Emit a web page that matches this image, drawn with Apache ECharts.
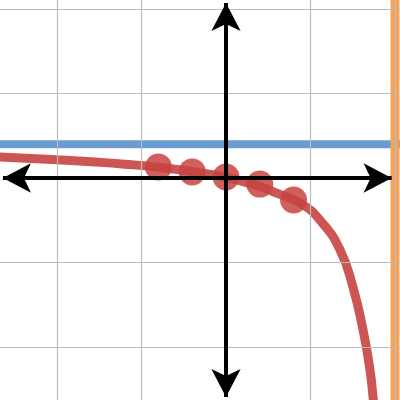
<!DOCTYPE html><html><head><meta charset="utf-8"><script src="https://cdn.jsdelivr.net/npm/echarts@6/dist/echarts.min.js"></script>
<style>html,body{margin:0;padding:0;background:#fff}#c{width:400px;height:400px}</style></head><body><div id="c"></div><script>
const curveX=[-13.4,-10,-8,-6,-4,-2,0,2,3,4.38,5.56,6.75,7.51,8.11,8.52,8.70,8.8];
const curveY=[1.24,1.08,0.96,0.82,0.64,0.38,0.04,-0.5,-0.9,-1.48,-2.49,-4.26,-6.45,-8.99,-11.36,-12.96,-14];
const pointX=[-4,-2,0,2,4];
const pointY=[0.65,0.36,0.06,-0.36,-1.3];
const gridTicks=[-10,-5,5,10];
const hLineY=2, vLineX=10;
const U=16.9;
const chart=echarts.init(document.getElementById('c'));
const gl=[];
gridTicks.forEach(t=>{gl.push({xAxis:t});gl.push({yAxis:t});});
chart.setOption({animation:false,
grid:{left:0,top:0,right:0,bottom:0},
xAxis:{type:'value',min:-226/U,max:174/U,axisLine:{show:false},axisTick:{show:false},axisLabel:{show:false},splitLine:{show:false}},
yAxis:{type:'value',min:-222/U,max:178/U,axisLine:{show:false},axisTick:{show:false},axisLabel:{show:false},splitLine:{show:false}},
series:[
{type:'line',data:[],markLine:{silent:true,symbol:['none','none'],label:{show:false},lineStyle:{color:'#bbb',width:1.2,type:'solid'},data:gl}},
{type:'line',data:[],markLine:{silent:true,symbol:['arrow','arrow'],symbolSize:[22,28],label:{show:false},lineStyle:{color:'#000',width:4,type:'solid'},
 data:[[{coord:[-13.2,0]},{coord:[9.8,0]}],[{coord:[0,-12.96]},{coord:[0,10.35]}]]}},
{type:'line',data:[[-20,hLineY],[20,hLineY]],symbol:'none',lineStyle:{color:'#6a9bd1',width:8}},
{type:'line',data:[[vLineX,-20],[vLineX,20]],symbol:'none',lineStyle:{color:'#f7a257',width:9}},
{type:'line',data:curveX.map((x,i)=>[x,curveY[i]]),smooth:true,symbol:'none',lineStyle:{color:'#c74440',width:9,opacity:0.9}},
{type:'scatter',data:pointX.map((x,i)=>[x,pointY[i]]),symbolSize:27,itemStyle:{color:'#c74440',opacity:0.85}}
]});
</script></body></html>
